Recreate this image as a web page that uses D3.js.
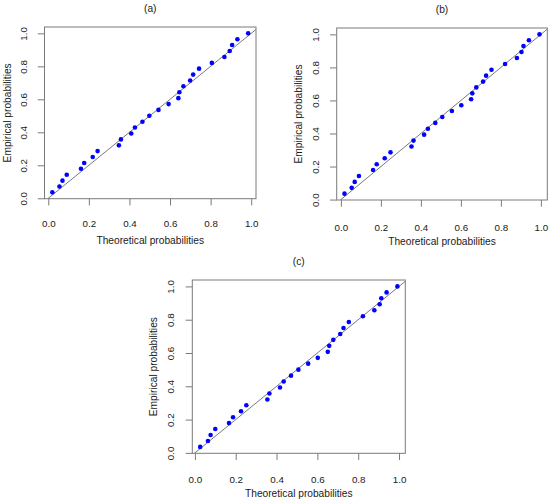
<!DOCTYPE html>
<html>
<head>
<meta charset="utf-8">
<script src="https://cdn.jsdelivr.net/npm/d3@7"></script>
<style>
html,body{margin:0;padding:0;background:#fff;}
svg text{font-family:"Liberation Sans",Arial,sans-serif;fill:#1a1a1a;}
</style>
</head>
<body>
<div id="chart"></div>
<script>
// ---- data ----
const empirical = [0.036,0.071,0.107,0.143,0.179,0.214,0.250,0.286,0.321,0.357,0.393,0.429,0.464,0.500,
  0.536,0.571,0.607,0.643,0.679,0.714,0.750,0.786,0.821,0.857,0.893,0.929,0.964,1.000];
const theoreticalA = [0.020,0.055,0.070,0.091,0.161,0.177,0.219,0.243,0.348,0.358,0.409,0.427,0.464,0.498,
  0.543,0.593,0.641,0.646,0.666,0.699,0.714,0.743,0.806,0.868,0.894,0.906,0.932,0.985];
const theoreticalB = [0.018,0.054,0.069,0.090,0.161,0.179,0.219,0.248,0.353,0.363,0.416,0.435,0.472,0.507,
  0.555,0.602,0.651,0.657,0.677,0.711,0.726,0.753,0.821,0.880,0.903,0.913,0.940,0.993];
const theoreticalC = [0.026,0.064,0.077,0.100,0.167,0.187,0.226,0.252,0.355,0.365,0.417,0.435,0.471,0.507,
  0.555,0.602,0.651,0.658,0.678,0.712,0.728,0.754,0.823,0.879,0.905,0.913,0.939,0.992];
const panelTitles = ["(a)","(b)","(c)"];
const tickValues = [0,0.2,0.4,0.6,0.8,1.0];
const xLabel = "Theoretical probabilities";
const yLabel = "Empirical probabilities";

// ---- layout ----
const layout = [
  {l:44.5, r:256,   t:27,  b:198.7, titleY:12,    xTickY:28,  xTitleY:45,  yTickX:-17.5, yTitleX:-33.7},
  {l:336.7,r:547.3, t:28,  b:200,   titleY:12.5,  xTickY:30.5,xTitleY:44.5,yTickX:-18.2, yTitleX:-35},
  {l:192.3,r:405.3, t:280, b:453.3, titleY:264.5, xTickY:29.5,xTitleY:43.7,yTickX:-18.8, yTitleX:-35.8}
];
const series = [theoreticalA, theoreticalB, theoreticalC];

const W = 550, H = 504;
const svg = d3.select("#chart").append("svg").attr("width",W).attr("height",H);
const gray = "#7a7a7a";

function rDomain(vals){ // R-style 4% padding
  const [mn,mx] = d3.extent(vals); const e = (mx-mn)*0.04; return [mn-e, mx+e];
}

series.forEach((xs, i) => {
  const L = layout[i];
  const x = d3.scaleLinear().domain(rDomain(xs)).range([L.l, L.r]);
  const y = d3.scaleLinear().domain(rDomain(empirical)).range([L.b, L.t]);
  const g = svg.append("g");

  const clipId = "clip"+i;
  g.append("clipPath").attr("id",clipId).append("rect")
    .attr("x",L.l).attr("y",L.t).attr("width",L.r-L.l).attr("height",L.b-L.t);

  // diagonal reference line (abline 0,1)
  const xd = x.domain();
  g.append("line").attr("clip-path",`url(#${clipId})`)
    .attr("x1",x(xd[0])).attr("y1",y(xd[0])).attr("x2",x(xd[1])).attr("y2",y(xd[1]))
    .attr("stroke",gray).attr("stroke-width",1);

  // points
  g.selectAll("circle").data(xs.map((v,k)=>[v,empirical[k]])).join("circle")
    .attr("cx",d=>x(d[0])).attr("cy",d=>y(d[1])).attr("r",2.3).attr("fill","#0000ff");

  // box
  g.append("rect").attr("x",L.l).attr("y",L.t).attr("width",L.r-L.l).attr("height",L.b-L.t)
    .attr("fill","none").attr("stroke",gray).attr("stroke-width",1);

  // x axis
  const xa = g.append("g").attr("transform",`translate(0,${L.b})`)
    .call(d3.axisBottom(x).tickValues(tickValues).tickSize(6.7).tickFormat(d3.format(".1f")));
  xa.select(".domain").remove();
  xa.selectAll(".tick line").attr("stroke",gray);
  xa.selectAll(".tick text").attr("y",L.xTickY).attr("dy",null)
    .style("font-size","9.8px").attr("fill","#1a1a1a");

  // y axis
  const ya = g.append("g").attr("transform",`translate(${L.l},0)`)
    .call(d3.axisLeft(y).tickValues(tickValues).tickSize(6.7).tickFormat(d3.format(".1f")));
  ya.select(".domain").remove();
  ya.selectAll(".tick line").attr("stroke",gray);
  ya.selectAll(".tick text").attr("x",null).attr("dy",null).attr("text-anchor","middle")
    .attr("transform",`translate(${L.yTickX},0) rotate(-90)`)
    .style("font-size","9.8px").attr("fill","#1a1a1a");

  // axis titles
  const cx = (L.l+L.r)/2, cy = (L.t+L.b)/2;
  g.append("text").attr("x",cx).attr("y",L.b+L.xTitleY).attr("text-anchor","middle")
    .style("font-size","10.2px").text(xLabel);
  g.append("text").attr("transform",`translate(${L.l+L.yTitleX},${cy}) rotate(-90)`)
    .attr("text-anchor","middle").style("font-size","10.2px").text(yLabel);
  // panel title
  g.append("text").attr("x",cx).attr("y",L.titleY).attr("text-anchor","middle")
    .style("font-size","10.2px").text(panelTitles[i]);
});
</script>
</body>
</html>
